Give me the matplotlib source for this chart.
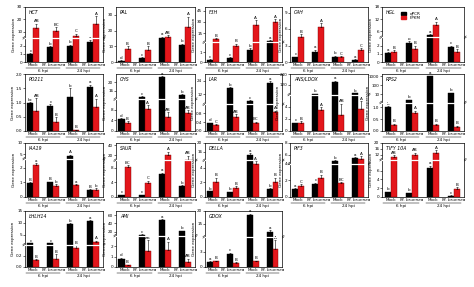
import numpy as np
import matplotlib
matplotlib.use('Agg')
import matplotlib.pyplot as plt
import matplotlib.transforms as mtransforms

# x categories
GROUPS = ['Mock', 'M. brunnea', 'Mock', 'M. brunnea']
TIMES = ['6 hpi', '24 hpi']

# ---- values (qPCR = black, FPKM = red) ----
HCT_Q = [1.0, 1.8, 1.94, 2.5]
HCT_QE = [0.1, 0.15, 0.2, 0.2]
HCT_F = [13.0, 10.8, 6.8, 16.6]
HCT_FE = [3.6, 2.7, 1.5, 5.8]
HCT_QL = ['c', 'b', 'b', 'a']
HCT_FL = ['AB', 'BC', 'C', 'A']

PAL_Q = [0.9, 2.6, 15.0, 10.6]
PAL_QE = [0.2, 0.4, 1.0, 1.0]
PAL_F = [8.0, 7.6, 15.6, 22.0]
PAL_FE = [2.0, 2.4, 1.5, 6.7]
PAL_QL = ['d', 'c', 'a', 'b']
PAL_FL = ['B', 'B', 'AB', 'A']

F3H_Q = [0.24, 0.4, 1.25, 5.2]
F3H_QE = [0.05, 0.1, 0.15, 0.8]
F3H_F = [6.7, 1.6, 26.5, 29.5]
F3H_FE = [1.5, 0.25, 6.0, 4.0]
F3H_QL = ['c', 'c', 'b', 'a']
F3H_FL = ['B', 'B', 'A', 'A']

C4H_Q = [0.9, 1.9, 1.0, 0.4]
C4H_QE = [0.1, 0.3, 0.15, 0.1]
C4H_F = [4.6, 6.3, 0.84, 2.1]
C4H_FE = [0.5, 0.8, 0.2, 0.4]
C4H_QL = ['c', 'a', 'b', 'a']
C4H_FL = ['B', 'A', 'C', 'C']

HGL_Q = [1.07, 2.27, 4.1, 1.8]
HGL_QE = [0.1, 0.25, 0.5, 0.2]
HGL_F = [1.27, 1.6, 9.3, 1.27]
HGL_FE = [0.15, 0.4, 1.5, 0.3]
HGL_QL = ['a', 'b', 'a', 'c']
HGL_FL = ['B', 'B', 'A', 'B']

PO211_Q = [0.97, 0.88, 1.2, 1.56]
PO211_QE = [0.05, 0.05, 0.3, 0.07]
PO211_F = [0.71, 0.33, 0.04, 0.83]
PO211_FE = [0.45, 0.15, 0.01, 0.3]
PO211_QL = ['bc', 'c', 'b', 'a']
PO211_FL = ['AB', 'B', 'B', 'A']

CHS_Q = [4.4, 12.8, 22.4, 14.0]
CHS_QE = [0.4, 0.5, 0.5, 0.4]
CHS_F = [3.1, 8.1, 5.4, 6.6]
CHS_FE = [0.6, 1.6, 1.6, 1.3]
CHS_QL = ['d', 'c', 'a', 'b']
CHS_FL = ['B', 'A', 'AB', 'AB']

LAR_Q = [0.34, 17.3, 6.1, 22.4]
LAR_QE = [0.03, 1.0, 0.5, 1.0]
LAR_F = [0.27, 0.64, 0.37, 0.84]
LAR_FE = [0.03, 0.1, 0.04, 0.06]
LAR_QL = ['d', 'b', 'c', 'a']
LAR_FL = ['C', 'AB', 'BC', 'A']

ANS_Q = [1.26, 18.0, 154.0, 24.7]
ANS_QE = [0.1, 1.5, 10.0, 2.0]
ANS_F = [1.37, 3.5, 2.7, 3.7]
ANS_FE = [0.2, 0.4, 1.8, 1.2]
ANS_QL = ['c', 'b', 'a', 'b']
ANS_FL = ['B', 'A', 'AB', 'A']

RPS2_Q = [1.0, 2.15, 1000.0, 12.5]
RPS2_QE = [0.05, 0.3, 100.0, 2.0]
RPS2_F = [0.25, 0.74, 0.25, 0.18]
RPS2_FE = [0.05, 0.12, 0.05, 0.05]
RPS2_QL = ['b', 'b', 'a', 'b']
RPS2_FL = ['B', 'A', 'B', 'B']

IAA19_Q = [0.95, 1.0, 4.3, 0.5]
IAA19_QE = [0.05, 0.05, 0.5, 0.03]
IAA19_F = [2.2, 0.72, 0.83, 0.5]
IAA19_FE = [0.1, 0.15, 0.05, 0.08]
IAA19_QL = ['B', 'B', 'A', 'B']
IAA19_FL = ['a', 'b', 'a', 'b']

SAUR_Q = [0.63, 0.6, 6.3, 2.9]
SAUR_QE = [0.05, 0.05, 0.3, 0.3]
SAUR_F = [8.3, 3.8, 21.0, 11.0]
SAUR_FE = [0.4, 0.6, 6.0, 8.0]
SAUR_QL = ['c', 'c', 'a', 'b']
SAUR_FL = ['BC', 'C', 'A', 'AB']

DELLA_Q = [0.77, 0.68, 14.5, 1.1]
DELLA_QE = [0.05, 0.05, 0.8, 0.1]
DELLA_F = [2.1, 1.2, 4.5, 2.1]
DELLA_FE = [0.5, 0.3, 0.4, 0.5]
DELLA_QL = ['b', 'b', 'a', 'b']
DELLA_FL = ['B', 'B', 'A', 'B']

PIF3_Q = [0.97, 1.6, 4.87, 5.4]
PIF3_QE = [0.05, 0.1, 0.2, 0.2]
PIF3_F = [1.29, 2.26, 1.68, 5.3]
PIF3_FE = [0.25, 0.4, 0.1, 0.4]
PIF3_QL = ['a', 'c', 'b', 'a']
PIF3_FL = ['C', 'B', 'BC', 'A']

TIFY_Q = [1.06, 0.9, 6.6, 0.3]
TIFY_QE = [0.1, 0.1, 0.5, 0.05]
TIFY_F = [10.7, 11.8, 13.1, 1.8]
TIFY_FE = [0.8, 1.5, 2.0, 0.5]
TIFY_QL = ['b', 'b', 'a', 'c']
TIFY_FL = ['AB', 'AB', 'A', 'B']

BHLH_Q = [1.5, 1.5, 9.4, 10.8]
BHLH_QE = [0.1, 0.1, 0.4, 0.4]
BHLH_F = [0.12, 0.15, 0.34, 2.2]
BHLH_FE = [0.02, 0.08, 0.05, 0.4]
BHLH_QL = ['c', 'c', 'b', 'a']
BHLH_FL = ['B', 'B', 'B', 'A']

AMI_Q = [0.8, 12.7, 48.0, 21.0]
AMI_QE = [0.1, 1.0, 2.0, 1.5]
AMI_F = [0.16, 1.55, 1.6, 0.48]
AMI_FE = [0.05, 1.0, 0.8, 0.3]
AMI_QL = ['d', 'c', 'a', 'b']
AMI_FL = ['B', 'AB', 'A', 'AB']

GDOX_Q = [1.0, 2.67, 18.5, 11.7]
GDOX_QE = [0.1, 0.2, 0.5, 0.8]
GDOX_F = [1.13, 0.87, 1.13, 3.67]
GDOX_FE = [0.1, 0.1, 0.1, 1.6]
GDOX_QL = ['a', 'c', 'a', 'a']
GDOX_FL = ['B', 'B', 'B', 'A']

# y tick values and their labels
HCT_T, HCT_TL = [0, 1, 2, 10, 20, 30], ['0', '1', '2', '10', '20', '30']
PAL_T, PAL_TL = [0, 10, 20, 30], ['0', '10', '20', '30']
F3H_T, F3H_TL = [0, 1, 15, 30, 45], ['0', '1', '15', '30', '45']
C4H_T, C4H_TL = [0, 3, 6, 9], ['0', '3', '6', '9']
HGL_T, HGL_TL = [0, 1, 2, 6, 12, 18], ['0', '1', '2', '6', '12', '18']
PO211_T, PO211_TL = [0, 0.5, 1.0, 1.5, 2.0], ['0.0', '0.5', '1.0', '1.5', '2.0']
CHS_T, CHS_TL = [0, 4, 8, 16, 20], ['0', '4', '8', '16', '20']
LAR_T, LAR_TL = [0, 0.4, 0.8, 12, 24], ['0.0', '0.4', '0.8', '12', '24']
ANS_T, ANS_TL = [0, 2, 4, 120, 240], ['0', '2', '4', '120', '240']
RPS2_T, RPS2_TL = [0, 0.5, 1.0, 10, 100, 1000], ['0.0', '0.5', '1.0', '10', '100', '1000']
IAA19_T, IAA19_TL = [0, 1, 2, 5, 10], ['0', '1', '2', '5', '10']
SAUR_T, SAUR_TL = [0, 4, 8, 20, 40], ['0', '4', '8', '20', '40']
DELLA_T, DELLA_TL = [0, 2, 4, 16, 20], ['0', '2', '4', '16', '20']
PIF3_T, PIF3_TL = [0, 2, 4, 6, 8], ['0', '2', '4', '6', '8']
TIFY_T, TIFY_TL = [0, 2, 4, 6, 12, 16, 20], ['0', '2', '4', '6', '12', '16', '20']
BHLH_T, BHLH_TL = [0, 0.2, 5, 10, 15], ['0.0', '0.2', '5', '10', '15']
AMI_T, AMI_TL = [0, 1, 2, 20, 40, 60], ['0', '1', '2', '20', '40', '60']
GDOX_T, GDOX_TL = [0, 3, 15, 20], ['0', '3', '15', '20']

# panel: name, data, axis (1 value = plain linear top), ticks
# axis break: (low max, high min, top, break fraction, log top)
PANELS = [
    ('HCT', (HCT_Q, HCT_QE, HCT_F, HCT_FE, HCT_QL, HCT_FL), (3, 5, 30, 0.44, False), (HCT_T, HCT_TL)),
    ('PAL', (PAL_Q, PAL_QE, PAL_F, PAL_FE, PAL_QL, PAL_FL), (35,), (PAL_T, PAL_TL)),
    ('F3H', (F3H_Q, F3H_QE, F3H_F, F3H_FE, F3H_QL, F3H_FL), (2, 3, 50, 0.36, False), (F3H_T, F3H_TL)),
    ('C4H', (C4H_Q, C4H_QE, C4H_F, C4H_FE, C4H_QL, C4H_FL), (10,), (C4H_T, C4H_TL)),
    ('HGL', (HGL_Q, HGL_QE, HGL_F, HGL_FE, HGL_QL, HGL_FL), (3, 3, 18, 0.45, False), (HGL_T, HGL_TL)),
    ('PO211', (PO211_Q, PO211_QE, PO211_F, PO211_FE, PO211_QL, PO211_FL), (2.0,), (PO211_T, PO211_TL)),
    ('CHS', (CHS_Q, CHS_QE, CHS_F, CHS_FE, CHS_QL, CHS_FL), (12, 12, 24, 0.56, False), (CHS_T, CHS_TL)),
    ('LAR', (LAR_Q, LAR_QE, LAR_F, LAR_FE, LAR_QL, LAR_FL), (1.2, 3, 30, 0.47, False), (LAR_T, LAR_TL)),
    ('ANS/LDOX', (ANS_Q, ANS_QE, ANS_F, ANS_FE, ANS_QL, ANS_FL), (6, 12, 240, 0.64, False), (ANS_T, ANS_TL)),
    ('RPS2', (RPS2_Q, RPS2_QE, RPS2_F, RPS2_FE, RPS2_QL, RPS2_FL), (1.2, 1.2, 1700, 0.5, True), (RPS2_T, RPS2_TL)),
    ('IAA19', (IAA19_Q, IAA19_QE, IAA19_F, IAA19_FE, IAA19_QL, IAA19_FL), (2.6, 3, 10, 0.71, False), (IAA19_T, IAA19_TL)),
    ('SAUR', (SAUR_Q, SAUR_QE, SAUR_F, SAUR_FE, SAUR_QL, SAUR_FL), (10, 10, 45, 0.68, False), (SAUR_T, SAUR_TL)),
    ('DELLA', (DELLA_Q, DELLA_QE, DELLA_F, DELLA_FE, DELLA_QL, DELLA_FL), (5, 12, 20, 0.68, False), (DELLA_T, DELLA_TL)),
    ('PIF3', (PIF3_Q, PIF3_QE, PIF3_F, PIF3_FE, PIF3_QL, PIF3_FL), (4, 4.5, 8, 0.62, False), (PIF3_T, PIF3_TL)),
    ('TIFY 10A', (TIFY_Q, TIFY_QE, TIFY_F, TIFY_FE, TIFY_QL, TIFY_FL), (8.5, 8.5, 20, 0.69, False), (TIFY_T, TIFY_TL)),
    ('bHLH14', (BHLH_Q, BHLH_QE, BHLH_F, BHLH_FE, BHLH_QL, BHLH_FL), (0.4, 1, 15, 0.40, False), (BHLH_T, BHLH_TL)),
    ('AMI', (AMI_Q, AMI_QE, AMI_F, AMI_FE, AMI_QL, AMI_FL), (3, 10, 70, 0.56, False), (AMI_T, AMI_TL)),
    ('GDOX', (GDOX_Q, GDOX_QE, GDOX_F, GDOX_FE, GDOX_QL, GDOX_FL), (6, 10, 20, 0.54, False), (GDOX_T, GDOX_TL)),
]

# layout in pixels of the 474x287 reference
W, H = 474, 287
COL_LEFT = [25, 116, 205, 290, 382]
COL_WIDTH = [78, 79, 77, 78, 82]
ROW_TOP = [7, 74, 143, 211]
ROW_BOTTOM = [62, 131, 197, 267]

RED = '#e3161b'
FS = 3.0


def break_funcs(L, U, T, f, log_top):
    eps = 1e-4 if U > L else 0.0

    def fwd(v):
        v = np.asarray(v, dtype=float)
        with np.errstate(all='ignore'):
            if log_top:
                hi = f + eps + (np.log10(np.maximum(v, U)) - np.log10(U)) / (np.log10(T) - np.log10(U)) * (1 - f - eps)
            else:
                hi = f + eps + (v - U) / (T - U) * (1 - f - eps)
            mid = f + (v - L) / (U - L) * eps if eps else np.full_like(v, f)
            return np.where(v <= L, v / L * f, np.where(v >= U, hi, mid))

    def inv(y):
        y = np.asarray(y, dtype=float)
        with np.errstate(all='ignore'):
            if log_top:
                hi = 10 ** (np.log10(U) + (y - f - eps) / (1 - f - eps) * (np.log10(T) - np.log10(U)))
            else:
                hi = U + (y - f - eps) / (1 - f - eps) * (T - U)
            mid = L + (y - f) / eps * (U - L) if eps else np.full_like(y, L)
            return np.where(y <= f, y / f * L, np.where(y >= f + eps, hi, mid))

    return fwd, inv


def draw_panel(ax, name, data, axis, ticks, width_px):
    q, qe, fp, fe, ql, fl = data
    x = np.arange(len(GROUPS))
    bw = 0.3

    if len(axis) == 1:
        top = axis[0]
    else:
        L, U, top, f, log_top = axis
        ax.set_yscale('function', functions=break_funcs(L, U, top, f, log_top))

    ax.bar(x - bw / 2, q, bw, color='black', edgecolor='black', linewidth=0.3, zorder=2)
    ax.bar(x + bw / 2, fp, bw, color=RED, edgecolor='#7a0000', linewidth=0.3, zorder=2)
    ax.errorbar(x - bw / 2, q, yerr=[np.zeros(4), qe], fmt='none', ecolor='black',
                elinewidth=0.4, capsize=0.8, capthick=0.4, zorder=3)
    ax.errorbar(x + bw / 2, fp, yerr=[np.zeros(4), fe], fmt='none', ecolor='black',
                elinewidth=0.4, capsize=0.8, capthick=0.4, zorder=3)

    for xi, v, e, lab in zip(x - bw / 2, q, qe, ql):
        ax.annotate(lab, (xi, v + e), xytext=(0, 0.3), textcoords='offset points',
                    ha='center', va='bottom', fontsize=FS)
    for xi, v, e, lab in zip(x + bw / 2, fp, fe, fl):
        ax.annotate(lab, (xi, v + e), xytext=(0, 0.3), textcoords='offset points',
                    ha='center', va='bottom', fontsize=FS)

    ax.set_ylim(0, top)
    ax.set_xlim(-0.42, 3.48)
    ax.set_yticks(ticks[0])
    ax.set_yticklabels(ticks[1])

    if len(axis) > 1:
        # white gap across the bars and spines + small break marks
        ax.axhline(L, color='white', lw=0.9, zorder=4)
        for xa, xs in ((0, -0.015), (1, 0.015)):
            for dy in (-0.012, 0.012):
                ax.plot([xa + xs - 0.012, xa + xs + 0.012], [f + dy - 0.012, f + dy + 0.012],
                        transform=ax.transAxes, color='black', lw=0.35,
                        clip_on=False, zorder=5)

    ax.set_xticks(x)
    ax.set_xticklabels(GROUPS)
    for i, t in enumerate(ax.get_xticklabels()):
        if i % 2 == 1:
            t.set_fontstyle('italic')
    ax.tick_params(axis='both', labelsize=FS, length=1.2, width=0.4, pad=0.8)
    ax.tick_params(axis='x', length=0)
    for s in ax.spines.values():
        s.set_linewidth(0.5)

    tr = mtransforms.blended_transform_factory(ax.transData, ax.transAxes)
    for k, lab in enumerate(TIMES):
        x0, x1 = 2 * k - 0.35, 2 * k + 1.35
        ax.plot([x0, x1], [-0.11, -0.11], transform=tr, color='black', lw=0.35, clip_on=False)
        ax.text(2 * k + 0.5, -0.13, lab, transform=tr, ha='center', va='top', fontsize=FS)

    ax.text(0.05, 0.95, name, transform=ax.transAxes, ha='left', va='top',
            fontsize=FS + 0.3, fontstyle='italic')
    ax.set_ylabel('Gene expression', fontsize=FS)
    # keep the label just clear of the widest tick label
    nch = max(len(s) for s in ticks[1])
    ax.yaxis.set_label_coords(-(3.4 + 1.8 * nch + 1.6) / width_px, 0.5)


fig = plt.figure(figsize=(W / 100, H / 100), dpi=100)

for i, (name, data, axis, ticks) in enumerate(PANELS):
    r, c = divmod(i, 5)
    rect = [COL_LEFT[c] / W, 1 - ROW_BOTTOM[r] / H,
            COL_WIDTH[c] / W, (ROW_BOTTOM[r] - ROW_TOP[r]) / H]
    ax = fig.add_axes(rect)
    draw_panel(ax, name, data, axis, ticks, COL_WIDTH[c])
    if name == 'HGL':
        h1 = plt.Rectangle((0, 0), 1, 1, color='black')
        h2 = plt.Rectangle((0, 0), 1, 1, color=RED)
        ax.legend([h1, h2], ['qPCR', 'FPKM'], loc='upper left', bbox_to_anchor=(0.2, 0.97),
                  fontsize=FS, frameon=False, handlelength=1.2, handleheight=0.7,
                  labelspacing=0.2, borderpad=0.2)

fig.savefig('out.png', dpi=100)
